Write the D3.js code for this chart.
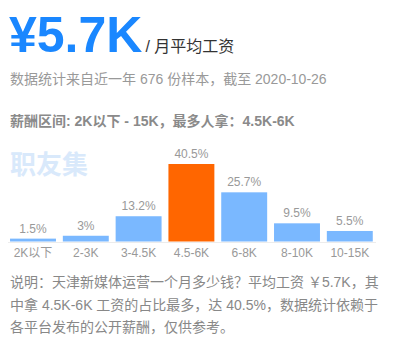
<!DOCTYPE html>
<html>
<head>
<meta charset="utf-8">
<script src="https://cdn.jsdelivr.net/npm/d3@7"></script>
<style>
  body { margin: 0; background: #fff; }
  text { font-family: "Liberation Sans", Arial, "Noto Sans CJK SC", sans-serif; }
</style>
</head>
<body>
<svg id="chart" width="397" height="347"></svg>
<script>
const categories = ["2K以下", "2-3K", "3-4.5K", "4.5-6K", "6-8K", "8-10K", "10-15K"];
const shares = [1.5, 3, 13.2, 40.5, 25.7, 9.5, 5.5];
const shareLabels = ["1.5%", "3%", "13.2%", "40.5%", "25.7%", "9.5%", "5.5%"];
const highlight = "4.5-6K";
const noteLines = [
    "说明：天津新媒体运营一个月多少钱？平均工资 ￥5.7K，其",
    "中拿 4.5K-6K 工资的占比最多，达 40.5%，数据统计依赖于",
    "各平台发布的公开薪酬，仅供参考。"
];

const svg = d3.select("#chart");
const data = categories.map((c, i) => ({ cat: c, v: shares[i], label: shareLabels[i] }));

// header
const head = svg.append("text").attr("x", 9).attr("y", 52);
head.append("tspan")
    .attr("font-size", 50).attr("font-weight", "bold").attr("fill", "#1a87ff")
    .text("¥5.7K");
head.append("tspan")
    .attr("dx", 3).attr("font-size", 16).attr("fill", "#333")
    .text("/ 月平均工资");

svg.append("text")
    .attr("x", 10).attr("y", 84)
    .attr("font-size", 14).attr("fill", "#999")
    .text("数据统计来自近一年 676 份样本，截至 2020-10-26");

svg.append("text")
    .attr("x", 10).attr("y", 126)
    .attr("font-size", 14).attr("font-weight", "bold").attr("fill", "#8a8a8a")
    .text("薪酬区间: 2K以下 - 15K，最多人拿：4.5K-6K");

// watermark
svg.append("text")
    .attr("x", 10).attr("y", 174)
    .attr("font-size", 26).attr("font-weight", "bold").attr("fill", "#d9e9fb")
    .text("职友集");

// bars
const x = d3.scaleBand()
    .domain(categories)
    .range([6.6, 376.2])
    .paddingInner(0.13)
    .paddingOuter(0.065);

const y = d3.scaleLinear()
    .domain([0, d3.max(shares)])
    .range([241.5, 164]);

svg.append("line")
    .attr("x1", 8).attr("x2", 376)
    .attr("y1", 242.5).attr("y2", 242.5)
    .attr("stroke", "#ececec");

svg.selectAll("rect.bar")
    .data(data)
    .enter()
    .append("rect")
    .attr("class", "bar")
    .attr("x", d => x(d.cat))
    .attr("y", d => y(d.v))
    .attr("width", x.bandwidth())
    .attr("height", d => y(0) - y(d.v))
    .attr("fill", d => d.cat === highlight ? "#ff6600" : "#7ab8ff");

svg.selectAll("text.val")
    .data(data)
    .enter()
    .append("text")
    .attr("class", "val")
    .attr("x", d => x(d.cat) + x.bandwidth() / 2)
    .attr("y", d => y(d.v) - 6)
    .attr("text-anchor", "middle")
    .attr("font-size", 12)
    .attr("fill", "#999")
    .text(d => d.label);

svg.selectAll("text.cat")
    .data(data)
    .enter()
    .append("text")
    .attr("class", "cat")
    .attr("x", d => x(d.cat) + x.bandwidth() / 2)
    .attr("y", 257)
    .attr("text-anchor", "middle")
    .attr("font-size", 12)
    .attr("fill", "#999")
    .text(d => d.cat);

// note
svg.selectAll("text.note")
    .data(noteLines)
    .enter()
    .append("text")
    .attr("class", "note")
    .attr("x", 10)
    .attr("y", (d, i) => 287 + i * 22.5)
    .attr("font-size", 14)
    .attr("fill", "#888")
    .text(d => d);
</script>
</body>
</html>
